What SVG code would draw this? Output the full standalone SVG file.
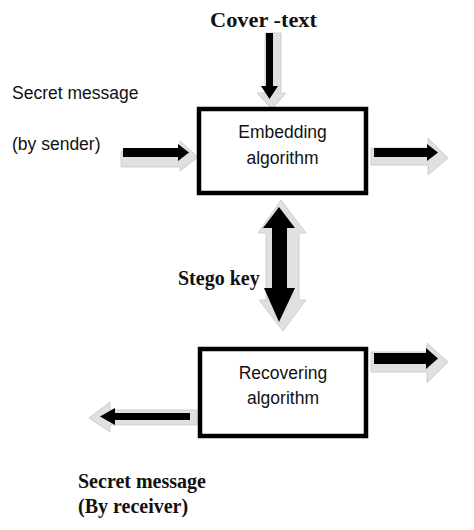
<svg xmlns="http://www.w3.org/2000/svg" width="474" height="530" viewBox="0 0 474 530">
<style>
.box{fill:#fff;stroke:#000;stroke-width:4.5}
.sans{font-family:"Liberation Sans","DejaVu Sans",sans-serif;font-size:17.5px;fill:#111}
.serif{font-family:"Liberation Serif","DejaVu Serif",serif;font-weight:bold;fill:#111}
.shadow{fill:#e0e0e0;stroke:#cfcfcf;stroke-width:1}
.blk{fill:#000}
</style>
<rect width="474" height="530" fill="#fff"/>
<g id="connectors">
  <polygon class="shadow" points="265,33 281,33 281,93 286,93 272,109 257,93 265,93"/>
  <polygon class="blk" points="266,33 273,33 273,86 278,86 269.5,99 261,86 266,86"/>
  <polygon class="shadow" points="121,151 180,151 180,141 198,157 180,171 180,167 121,167"/>
  <polygon class="blk" points="123,148 178,148 178,144 189,152.5 178,161 178,157 123,157"/>
  <polygon class="shadow" points="371,148 428,148 428,138 448,158 428,175 428,165 371,165"/>
  <polygon class="blk" points="374,148 427,148 427,144 438,152.5 427,161 427,157 374,157"/>
  <polygon class="shadow" points="281,200 306,233 299,233 299,300 306,300 283,331 259,300 266,300 266,233 258,233"/>
  <polygon class="blk" points="279,207 295,228 287,228 287,288 295,288 279,322 264,288 272,288 272,228 263,228"/>
  <polygon class="shadow" points="371,352 427,352 427,343 448,362 427,383 427,372 371,372"/>
  <polygon class="blk" points="374,353 426,353 426,348 438,358.5 426,369 426,364 374,364"/>
  <polygon class="shadow" points="197,410 110,410 110,402 89,418 110,432 110,425 197,425"/>
  <polygon class="blk" points="190,413 115,413 115,408 100,416.5 115,425 115,420 190,420"/>
</g>
<g id="cover-text">
  <text class="serif" x="210" y="27" font-size="20" textLength="107" lengthAdjust="spacingAndGlyphs">Cover -text</text>
</g>
<g id="secret-sender">
  <text class="sans" x="12" y="99">Secret message</text>
  <text class="sans" x="12" y="150">(by sender)</text>
</g>
<g id="embedding">
  <rect class="box" x="199" y="109" width="167" height="84"/>
  <text class="sans" x="282.5" y="138" text-anchor="middle">Embedding</text>
  <text class="sans" x="282.5" y="164" text-anchor="middle">algorithm</text>
</g>
<g id="stego-key">
  <text class="serif" x="178" y="285" font-size="20">Stego key</text>
</g>
<g id="recovering">
  <rect class="box" x="200" y="349" width="166" height="87"/>
  <text class="sans" x="283" y="379" text-anchor="middle">Recovering</text>
  <text class="sans" x="283" y="404" text-anchor="middle">algorithm</text>
</g>
<g id="secret-receiver">
  <text class="serif" x="78" y="488" font-size="20">Secret message</text>
  <text class="serif" x="78" y="513" font-size="20">(By receiver)</text>
</g>
</svg>
